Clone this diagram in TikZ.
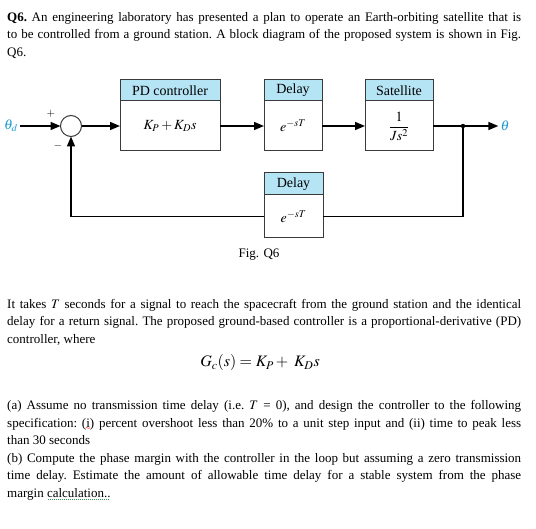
\documentclass[tikz,border=0pt]{standalone}
\usepackage{amsmath}
\usepackage{mathptmx}
\usepackage{fontspec}
\setmainfont{Liberation Serif}
\usetikzlibrary{arrows.meta, positioning, calc}
\definecolor{headcyan}{HTML}{B5E4F5}
\definecolor{thetablue}{HTML}{1B9AD0}
\definecolor{boxgray}{HTML}{3A3A3A}
\definecolor{checkgreen}{HTML}{3C8F5A}
\newcommand\spellwave[1]{\setbox0\hbox{#1}\rlap{\kern-1pt\raisebox{-4.5pt}{\textcolor{red}{\fontsize{9}{9}\selectfont\char"7E}}}\box0}
\newcommand\grammardots[1]{\setbox0\hbox{#1}\rlap{\textcolor{checkgreen}{\leaders\hbox to 2pt{\hss\rule[-2.5pt]{1pt}{0.8pt}\hss}\hskip\wd0}}\box0}
\tikzset{
  sig/.style={-{Triangle[length=10pt,width=8pt]}, line width=1.6pt},
  wire/.style={line width=1.6pt},
  bhead/.style={rectangle, draw=boxgray, fill=headcyan, line width=1pt, outer sep=0pt, inner sep=0pt, minimum height=21pt},
  bbody/.style={rectangle, draw=boxgray, fill=white, line width=1pt, outer sep=0pt, inner sep=0pt},
  para/.style={anchor=north west, inner sep=0pt, text width=514pt, align=justify, font=\fontsize{13}{17.5}\selectfont\frenchspacing},
}

\begin{document}
\begin{tikzpicture}[x=1pt, y=-1pt, font=\fontsize{14}{16}\selectfont,
    sign/.style={inner sep=0pt, font=\fontsize{11}{11}\selectfont},
    outlabel/.style={inner sep=2pt, text=thetablue}]
  \fill[white] (0,0) rectangle (536,529);
  \useasboundingbox (0,0) rectangle (536,529);

  % Question text
  \node[para] (intro) at (7,9) {\strut\textbf{Q6.} An engineering laboratory has presented a plan to operate an Earth-orbiting satellite that is\linebreak to be controlled from a ground station. A block diagram of the proposed system is shown in Fig.\linebreak Q6.};

  % Block diagram
  \node[outlabel] (thd) at (11,126) {$\theta_d$};
  \node[circle, draw=boxgray, line width=1pt, minimum size=21pt, inner sep=0pt, outer sep=0pt] (sum) at (71,126) {};
  \node[sign] (plus) at (51,114) {$+$};
  \node[sign] (minus) at (58,146) {$-$};

  \node[bhead, minimum width=100pt] (pdh) at (170,90.5) {PD controller};
  \node[bbody, minimum width=100pt, minimum height=50pt, below=0pt of pdh] (pd) {$K_P + K_D s$};
  \node[bhead, minimum width=58pt] (d1h) at (293,90.5) {Delay};
  \node[bbody, minimum width=58pt, minimum height=50pt, below=0pt of d1h] (d1) {$e^{-sT}$};
  \node[bhead, minimum width=68pt] (sath) at (399,90.5) {Satellite};
  \node[bbody, minimum width=68pt, minimum height=50pt, below=0pt of sath] (sat) {$\dfrac{1}{Js^2}$};
  \node[bhead, minimum width=59pt, minimum height=22pt] (d2h) at (293.5,184) {Delay};
  \node[bbody, minimum width=59pt, minimum height=43pt, below=0pt of d2h] (d2) {$e^{-sT}$};

  \coordinate (tap) at (463,126);
  \node[outlabel] (th) at (505,126) {$\theta$};

  \draw[sig] (thd.east) -- (sum.west);
  \draw[sig] (sum.east) -- (pd.west);
  \draw[sig] (pd.east) -- (d1.west);
  \draw[sig] (d1.east) -- (sat.west);
  \draw[sig] (sat.east) -- (th.west);
  \fill (tap) circle (2.2pt);
  \draw[wire] (tap) |- (d2.east);
  \draw[sig] (d2.west) -| (sum.south);

  \node[anchor=base, font=\fontsize{13}{15}\selectfont] (cap) at (259,258) {Fig. Q6};

  % Remaining text
  \node[para] (setup) at (7,296) {\strut It takes $T$ seconds for a signal to reach the spacecraft from the ground station and the identical\linebreak delay for a return signal. The proposed ground-based controller is a proportional-derivative (PD)\linebreak controller, where};
  \node[anchor=base, font=\fontsize{16}{18}\selectfont] (gc) at (260,367) {$G_c(s) = K_P +\; K_D s$};
  \node[para] (tasks) at (7,397.5) {\strut(a) Assume no transmission time delay (i.e. $T$ = 0), and design the controller to the following\linebreak specification: (\spellwave{i}) percent overshoot less than 20\% to a unit step input and (ii) time to peak less\linebreak than 30 seconds\\
  (b) Compute the phase margin with the controller in the loop but assuming a zero transmission\linebreak time delay. Estimate the amount of allowable time delay for a stable system from the phase\linebreak margin \grammardots{calculation..}};
\end{tikzpicture}
\end{document}
